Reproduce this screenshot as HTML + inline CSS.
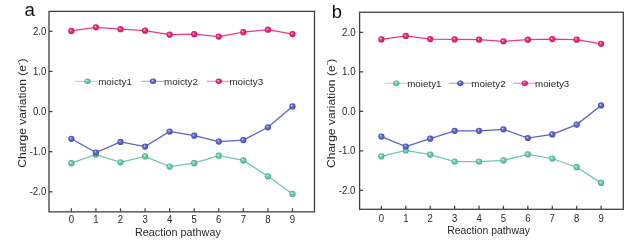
<!DOCTYPE html><html><head><meta charset="utf-8"><style>html,body{margin:0;padding:0;background:#fff;}svg{display:block;will-change:transform;}</style></head><body>
<svg width="638" height="241" viewBox="0 0 638 241" font-family='"Liberation Sans", sans-serif'>
<defs>
<radialGradient id="g_pink" cx="0.5" cy="0.5" r="0.5" fx="0.36" fy="0.36"><stop offset="0" stop-color="#ffffff"/><stop offset="0.3" stop-color="#f2428c"/><stop offset="0.7" stop-color="#e81c76"/><stop offset="1" stop-color="#c0125e"/></radialGradient>
<radialGradient id="g_blue" cx="0.5" cy="0.5" r="0.5" fx="0.36" fy="0.36"><stop offset="0" stop-color="#ffffff"/><stop offset="0.3" stop-color="#6c76d4"/><stop offset="0.7" stop-color="#5560c2"/><stop offset="1" stop-color="#3c449c"/></radialGradient>
<radialGradient id="g_green" cx="0.5" cy="0.5" r="0.5" fx="0.36" fy="0.36"><stop offset="0" stop-color="#ffffff"/><stop offset="0.3" stop-color="#7cd6b0"/><stop offset="0.7" stop-color="#5ec49a"/><stop offset="1" stop-color="#42a07c"/></radialGradient>
</defs>
<rect width="638" height="241" fill="#fff"/>
<rect x="49" y="11.35" width="265.5" height="200.5" fill="none" stroke="#404040" stroke-width="1.3"/>
<line x1="71.35" y1="211.85" x2="71.35" y2="208.35" stroke="#404040" stroke-width="1.25"/>
<text transform="translate(71.35,222.85) scale(0.85,1)" font-size="11.3" fill="#282828" text-anchor="middle">0</text>
<line x1="95.92" y1="211.85" x2="95.92" y2="208.35" stroke="#404040" stroke-width="1.25"/>
<text transform="translate(95.92,222.85) scale(0.85,1)" font-size="11.3" fill="#282828" text-anchor="middle">1</text>
<line x1="120.49" y1="211.85" x2="120.49" y2="208.35" stroke="#404040" stroke-width="1.25"/>
<text transform="translate(120.49,222.85) scale(0.85,1)" font-size="11.3" fill="#282828" text-anchor="middle">2</text>
<line x1="145.06" y1="211.85" x2="145.06" y2="208.35" stroke="#404040" stroke-width="1.25"/>
<text transform="translate(145.06,222.85) scale(0.85,1)" font-size="11.3" fill="#282828" text-anchor="middle">3</text>
<line x1="169.63" y1="211.85" x2="169.63" y2="208.35" stroke="#404040" stroke-width="1.25"/>
<text transform="translate(169.63,222.85) scale(0.85,1)" font-size="11.3" fill="#282828" text-anchor="middle">4</text>
<line x1="194.2" y1="211.85" x2="194.2" y2="208.35" stroke="#404040" stroke-width="1.25"/>
<text transform="translate(194.2,222.85) scale(0.85,1)" font-size="11.3" fill="#282828" text-anchor="middle">5</text>
<line x1="218.77" y1="211.85" x2="218.77" y2="208.35" stroke="#404040" stroke-width="1.25"/>
<text transform="translate(218.77,222.85) scale(0.85,1)" font-size="11.3" fill="#282828" text-anchor="middle">6</text>
<line x1="243.34" y1="211.85" x2="243.34" y2="208.35" stroke="#404040" stroke-width="1.25"/>
<text transform="translate(243.34,222.85) scale(0.85,1)" font-size="11.3" fill="#282828" text-anchor="middle">7</text>
<line x1="267.91" y1="211.85" x2="267.91" y2="208.35" stroke="#404040" stroke-width="1.25"/>
<text transform="translate(267.91,222.85) scale(0.85,1)" font-size="11.3" fill="#282828" text-anchor="middle">8</text>
<line x1="292.48" y1="211.85" x2="292.48" y2="208.35" stroke="#404040" stroke-width="1.25"/>
<text transform="translate(292.48,222.85) scale(0.85,1)" font-size="11.3" fill="#282828" text-anchor="middle">9</text>
<line x1="49" y1="31.3" x2="52.5" y2="31.3" stroke="#404040" stroke-width="1.25"/>
<text transform="translate(46.3,34.7) scale(0.84,1)" font-size="11.5" fill="#282828" text-anchor="end">2.0</text>
<line x1="49" y1="71.42" x2="52.5" y2="71.42" stroke="#404040" stroke-width="1.25"/>
<text transform="translate(46.3,74.83) scale(0.84,1)" font-size="11.5" fill="#282828" text-anchor="end">1.0</text>
<line x1="49" y1="111.55" x2="52.5" y2="111.55" stroke="#404040" stroke-width="1.25"/>
<text transform="translate(46.3,114.95) scale(0.84,1)" font-size="11.5" fill="#282828" text-anchor="end">0.0</text>
<line x1="49" y1="151.68" x2="52.5" y2="151.68" stroke="#404040" stroke-width="1.25"/>
<text transform="translate(46.3,155.08) scale(0.84,1)" font-size="11.5" fill="#282828" text-anchor="end">-1.0</text>
<line x1="49" y1="191.8" x2="52.5" y2="191.8" stroke="#404040" stroke-width="1.25"/>
<text transform="translate(46.3,195.2) scale(0.84,1)" font-size="11.5" fill="#282828" text-anchor="end">-2.0</text>
<text x="24.6" y="16.4" font-size="18.7" fill="#111">a</text>
<text x="177.9" y="236.1" font-size="10.8" fill="#282828" text-anchor="middle">Reaction pathway</text>
<text transform="translate(25.8,113) rotate(-90) scale(1.08,1)" font-size="11.2" fill="#282828" text-anchor="middle">Charge variation (e<tspan font-size="7" dy="-5.3">-</tspan><tspan dy="5.3">)</tspan></text>
<polyline fill="none" stroke="#6ccaa4" stroke-width="1.25" points="71.35,163.2 95.92,154.5 120.49,162.3 145.06,156.3 169.63,166.6 194.2,163.2 218.77,155.7 243.34,160.4 267.91,176.3 292.48,193.9"/>
<polyline fill="none" stroke="#5862c2" stroke-width="1.25" points="71.35,138.8 95.92,152.5 120.49,141.9 145.06,146.6 169.63,131.5 194.2,135.7 218.77,141.6 243.34,140.1 267.91,127.3 292.48,106.4"/>
<polyline fill="none" stroke="#ea3a84" stroke-width="1.25" points="71.35,30.9 95.92,27.3 120.49,29.2 145.06,30.7 169.63,34.7 194.2,34.2 218.77,36.6 243.34,32.2 267.91,29.7 292.48,34.1"/>
<circle cx="71.35" cy="163.2" r="3.1" fill="url(#g_green)"/>
<circle cx="95.92" cy="154.5" r="3.1" fill="url(#g_green)"/>
<circle cx="120.49" cy="162.3" r="3.1" fill="url(#g_green)"/>
<circle cx="145.06" cy="156.3" r="3.1" fill="url(#g_green)"/>
<circle cx="169.63" cy="166.6" r="3.1" fill="url(#g_green)"/>
<circle cx="194.2" cy="163.2" r="3.1" fill="url(#g_green)"/>
<circle cx="218.77" cy="155.7" r="3.1" fill="url(#g_green)"/>
<circle cx="243.34" cy="160.4" r="3.1" fill="url(#g_green)"/>
<circle cx="267.91" cy="176.3" r="3.1" fill="url(#g_green)"/>
<circle cx="292.48" cy="193.9" r="3.1" fill="url(#g_green)"/>
<circle cx="71.35" cy="138.8" r="3.1" fill="url(#g_blue)"/>
<circle cx="95.92" cy="152.5" r="3.1" fill="url(#g_blue)"/>
<circle cx="120.49" cy="141.9" r="3.1" fill="url(#g_blue)"/>
<circle cx="145.06" cy="146.6" r="3.1" fill="url(#g_blue)"/>
<circle cx="169.63" cy="131.5" r="3.1" fill="url(#g_blue)"/>
<circle cx="194.2" cy="135.7" r="3.1" fill="url(#g_blue)"/>
<circle cx="218.77" cy="141.6" r="3.1" fill="url(#g_blue)"/>
<circle cx="243.34" cy="140.1" r="3.1" fill="url(#g_blue)"/>
<circle cx="267.91" cy="127.3" r="3.1" fill="url(#g_blue)"/>
<circle cx="292.48" cy="106.4" r="3.1" fill="url(#g_blue)"/>
<circle cx="71.35" cy="30.9" r="3.1" fill="url(#g_pink)"/>
<circle cx="95.92" cy="27.3" r="3.1" fill="url(#g_pink)"/>
<circle cx="120.49" cy="29.2" r="3.1" fill="url(#g_pink)"/>
<circle cx="145.06" cy="30.7" r="3.1" fill="url(#g_pink)"/>
<circle cx="169.63" cy="34.7" r="3.1" fill="url(#g_pink)"/>
<circle cx="194.2" cy="34.2" r="3.1" fill="url(#g_pink)"/>
<circle cx="218.77" cy="36.6" r="3.1" fill="url(#g_pink)"/>
<circle cx="243.34" cy="32.2" r="3.1" fill="url(#g_pink)"/>
<circle cx="267.91" cy="29.7" r="3.1" fill="url(#g_pink)"/>
<circle cx="292.48" cy="34.1" r="3.1" fill="url(#g_pink)"/>
<line x1="74.8" y1="81.3" x2="98" y2="81.3" stroke="#90d8b8" stroke-width="0.9"/>
<ellipse cx="87.6" cy="81.3" rx="3.15" ry="2.75" fill="url(#g_green)"/>
<text x="98.2" y="84.9" font-size="9.8" fill="#282828">moicty1</text>
<line x1="141.3" y1="81.3" x2="164.5" y2="81.3" stroke="#8a90d8" stroke-width="0.9"/>
<ellipse cx="153.1" cy="81.3" rx="3.15" ry="2.75" fill="url(#g_blue)"/>
<text x="164.1" y="84.9" font-size="9.8" fill="#282828">moicty2</text>
<line x1="206.9" y1="81.3" x2="230.1" y2="81.3" stroke="#f070a8" stroke-width="0.9"/>
<ellipse cx="218.75" cy="81.3" rx="3.15" ry="2.75" fill="url(#g_pink)"/>
<text x="229.4" y="84.9" font-size="9.8" fill="#282828">moicty3</text>
<rect x="359.6" y="12.25" width="263.7" height="197.05" fill="none" stroke="#404040" stroke-width="1.3"/>
<line x1="381.4" y1="209.3" x2="381.4" y2="205.8" stroke="#404040" stroke-width="1.25"/>
<text transform="translate(381.4,221.6) scale(0.9,1)" font-size="10.6" fill="#282828" text-anchor="middle">0</text>
<line x1="405.81" y1="209.3" x2="405.81" y2="205.8" stroke="#404040" stroke-width="1.25"/>
<text transform="translate(405.81,221.6) scale(0.9,1)" font-size="10.6" fill="#282828" text-anchor="middle">1</text>
<line x1="430.22" y1="209.3" x2="430.22" y2="205.8" stroke="#404040" stroke-width="1.25"/>
<text transform="translate(430.22,221.6) scale(0.9,1)" font-size="10.6" fill="#282828" text-anchor="middle">2</text>
<line x1="454.63" y1="209.3" x2="454.63" y2="205.8" stroke="#404040" stroke-width="1.25"/>
<text transform="translate(454.63,221.6) scale(0.9,1)" font-size="10.6" fill="#282828" text-anchor="middle">3</text>
<line x1="479.04" y1="209.3" x2="479.04" y2="205.8" stroke="#404040" stroke-width="1.25"/>
<text transform="translate(479.04,221.6) scale(0.9,1)" font-size="10.6" fill="#282828" text-anchor="middle">4</text>
<line x1="503.45" y1="209.3" x2="503.45" y2="205.8" stroke="#404040" stroke-width="1.25"/>
<text transform="translate(503.45,221.6) scale(0.9,1)" font-size="10.6" fill="#282828" text-anchor="middle">5</text>
<line x1="527.86" y1="209.3" x2="527.86" y2="205.8" stroke="#404040" stroke-width="1.25"/>
<text transform="translate(527.86,221.6) scale(0.9,1)" font-size="10.6" fill="#282828" text-anchor="middle">6</text>
<line x1="552.27" y1="209.3" x2="552.27" y2="205.8" stroke="#404040" stroke-width="1.25"/>
<text transform="translate(552.27,221.6) scale(0.9,1)" font-size="10.6" fill="#282828" text-anchor="middle">7</text>
<line x1="576.68" y1="209.3" x2="576.68" y2="205.8" stroke="#404040" stroke-width="1.25"/>
<text transform="translate(576.68,221.6) scale(0.9,1)" font-size="10.6" fill="#282828" text-anchor="middle">8</text>
<line x1="601.09" y1="209.3" x2="601.09" y2="205.8" stroke="#404040" stroke-width="1.25"/>
<text transform="translate(601.09,221.6) scale(0.9,1)" font-size="10.6" fill="#282828" text-anchor="middle">9</text>
<line x1="359.6" y1="32.35" x2="363.1" y2="32.35" stroke="#404040" stroke-width="1.25"/>
<text transform="translate(355.5,35.85) scale(0.84,1)" font-size="11.5" fill="#282828" text-anchor="end">2.0</text>
<line x1="359.6" y1="71.85" x2="363.1" y2="71.85" stroke="#404040" stroke-width="1.25"/>
<text transform="translate(355.5,75.35) scale(0.84,1)" font-size="11.5" fill="#282828" text-anchor="end">1.0</text>
<line x1="359.6" y1="111.35" x2="363.1" y2="111.35" stroke="#404040" stroke-width="1.25"/>
<text transform="translate(355.5,114.85) scale(0.84,1)" font-size="11.5" fill="#282828" text-anchor="end">0.0</text>
<line x1="359.6" y1="150.85" x2="363.1" y2="150.85" stroke="#404040" stroke-width="1.25"/>
<text transform="translate(355.5,154.35) scale(0.84,1)" font-size="11.5" fill="#282828" text-anchor="end">-1.0</text>
<line x1="359.6" y1="190.35" x2="363.1" y2="190.35" stroke="#404040" stroke-width="1.25"/>
<text transform="translate(355.5,193.85) scale(0.84,1)" font-size="11.5" fill="#282828" text-anchor="end">-2.0</text>
<text x="331.7" y="18.4" font-size="18.3" fill="#111">b</text>
<text x="488.6" y="234" font-size="10.4" fill="#282828" text-anchor="middle">Reaction pathway</text>
<text transform="translate(334.7,113.4) rotate(-90) scale(1.08,1)" font-size="11.2" fill="#282828" text-anchor="middle">Charge variation (e<tspan font-size="7" dy="-5.3">-</tspan><tspan dy="5.3">)</tspan></text>
<polyline fill="none" stroke="#6ccaa4" stroke-width="1.25" points="381.4,156.3 405.81,150.5 430.22,154.6 454.63,161.5 479.04,161.5 503.45,160.4 527.86,154.3 552.27,158.5 576.68,167.2 601.09,182.9"/>
<polyline fill="none" stroke="#5862c2" stroke-width="1.25" points="381.4,136.6 405.81,146.5 430.22,138.7 454.63,130.8 479.04,130.8 503.45,129.3 527.86,138 552.27,134.4 576.68,124.6 601.09,105.4"/>
<polyline fill="none" stroke="#ea3a84" stroke-width="1.25" points="381.4,39.4 405.81,35.9 430.22,39.1 454.63,39.4 479.04,39.7 503.45,41.3 527.86,39.7 552.27,39.1 576.68,39.7 601.09,43.8"/>
<circle cx="381.4" cy="156.3" r="3.1" fill="url(#g_green)"/>
<circle cx="405.81" cy="150.5" r="3.1" fill="url(#g_green)"/>
<circle cx="430.22" cy="154.6" r="3.1" fill="url(#g_green)"/>
<circle cx="454.63" cy="161.5" r="3.1" fill="url(#g_green)"/>
<circle cx="479.04" cy="161.5" r="3.1" fill="url(#g_green)"/>
<circle cx="503.45" cy="160.4" r="3.1" fill="url(#g_green)"/>
<circle cx="527.86" cy="154.3" r="3.1" fill="url(#g_green)"/>
<circle cx="552.27" cy="158.5" r="3.1" fill="url(#g_green)"/>
<circle cx="576.68" cy="167.2" r="3.1" fill="url(#g_green)"/>
<circle cx="601.09" cy="182.9" r="3.1" fill="url(#g_green)"/>
<circle cx="381.4" cy="136.6" r="3.1" fill="url(#g_blue)"/>
<circle cx="405.81" cy="146.5" r="3.1" fill="url(#g_blue)"/>
<circle cx="430.22" cy="138.7" r="3.1" fill="url(#g_blue)"/>
<circle cx="454.63" cy="130.8" r="3.1" fill="url(#g_blue)"/>
<circle cx="479.04" cy="130.8" r="3.1" fill="url(#g_blue)"/>
<circle cx="503.45" cy="129.3" r="3.1" fill="url(#g_blue)"/>
<circle cx="527.86" cy="138" r="3.1" fill="url(#g_blue)"/>
<circle cx="552.27" cy="134.4" r="3.1" fill="url(#g_blue)"/>
<circle cx="576.68" cy="124.6" r="3.1" fill="url(#g_blue)"/>
<circle cx="601.09" cy="105.4" r="3.1" fill="url(#g_blue)"/>
<circle cx="381.4" cy="39.4" r="3.1" fill="url(#g_pink)"/>
<circle cx="405.81" cy="35.9" r="3.1" fill="url(#g_pink)"/>
<circle cx="430.22" cy="39.1" r="3.1" fill="url(#g_pink)"/>
<circle cx="454.63" cy="39.4" r="3.1" fill="url(#g_pink)"/>
<circle cx="479.04" cy="39.7" r="3.1" fill="url(#g_pink)"/>
<circle cx="503.45" cy="41.3" r="3.1" fill="url(#g_pink)"/>
<circle cx="527.86" cy="39.7" r="3.1" fill="url(#g_pink)"/>
<circle cx="552.27" cy="39.1" r="3.1" fill="url(#g_pink)"/>
<circle cx="576.68" cy="39.7" r="3.1" fill="url(#g_pink)"/>
<circle cx="601.09" cy="43.8" r="3.1" fill="url(#g_pink)"/>
<line x1="384.8" y1="83.2" x2="408" y2="83.2" stroke="#90d8b8" stroke-width="0.9"/>
<ellipse cx="396.3" cy="83.2" rx="3.15" ry="2.75" fill="url(#g_green)"/>
<text x="407.2" y="86.8" font-size="9.8" fill="#282828">moiety1</text>
<line x1="448.8" y1="83.2" x2="472" y2="83.2" stroke="#8a90d8" stroke-width="0.9"/>
<ellipse cx="460.3" cy="83.2" rx="3.15" ry="2.75" fill="url(#g_blue)"/>
<text x="471.3" y="86.8" font-size="9.8" fill="#282828">moiety2</text>
<line x1="513.1" y1="83.2" x2="536.3" y2="83.2" stroke="#f070a8" stroke-width="0.9"/>
<ellipse cx="524.75" cy="83.2" rx="3.15" ry="2.75" fill="url(#g_pink)"/>
<text x="535" y="86.8" font-size="9.8" fill="#282828">moiety3</text>
</svg></body></html>
